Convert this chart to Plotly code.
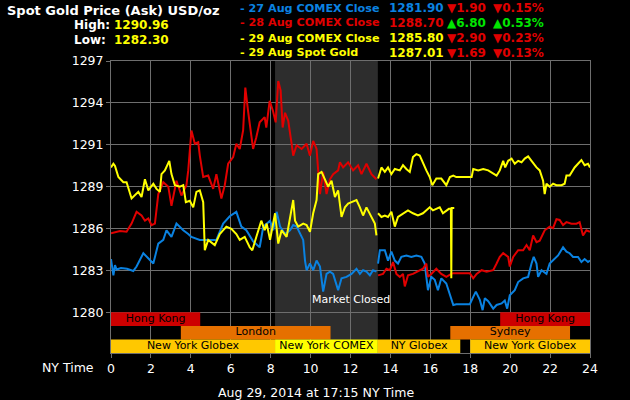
import plotly.graph_objects as go

# hour of the NY day (0-24) and ask price
# segments before the COMEX close (left) and after it (right)
blue_am_hours = [0.0, 0.12, 0.2, 0.28, 0.5, 0.8, 1.12, 1.28, 1.62, 1.95, 2.12, 2.37, 2.62, 2.78, 3.03, 3.28,
                 3.62, 3.87, 4.03, 4.45, 4.95, 5.28, 5.62, 5.95, 6.28, 6.53, 6.78, 7.12, 7.45, 7.63, 7.8, 7.97,
                 8.13, 8.3, 8.47, 8.72, 8.97, 9.13, 9.3, 9.47, 9.63, 9.72, 9.8, 9.97, 10.13, 10.3, 10.47, 10.63,
                 10.8, 10.97, 11.13, 11.38, 11.55, 11.8, 12.05, 12.3, 12.47, 12.63, 12.8, 12.97, 13.13, 13.3]
blue_am_prices = [1283.6, 1282.5, 1283.2, 1282.9, 1283.0, 1282.95, 1282.8, 1283.1, 1284.0, 1283.5, 1283.3, 1284.65,
                  1284.9, 1285.55, 1285.1, 1286.0, 1285.55, 1285.3, 1285.1, 1284.9, 1284.9, 1284.9, 1286.0, 1286.5,
                  1286.8, 1285.8, 1285.55, 1284.8, 1284.4, 1285.8, 1286.0, 1286.2, 1285.55, 1286.8, 1285.8, 1285.3,
                  1285.55, 1285.9, 1285.8, 1285.3, 1284.9, 1283.5, 1282.85, 1283.3, 1282.85, 1283.5, 1283.1, 1281.4,
                  1282.6, 1282.75, 1282.6, 1281.5, 1282.3, 1282.4, 1282.6, 1282.95, 1282.6, 1282.85, 1282.75, 1282.5,
                  1282.85, 1282.75]
blue_pm_hours = [13.38, 13.47, 13.72, 13.88, 14.05, 14.22, 14.38, 14.55, 14.8, 15.05, 15.3, 15.55, 15.72, 15.88,
                 16.05, 16.22, 16.38, 16.55, 16.8, 17.05, 17.15, 17.3, 17.98, 18.15, 18.28, 18.48, 18.62, 18.73,
                 18.9, 19.15, 19.32, 19.57, 19.73, 19.85, 19.98, 20.23, 20.4, 20.65, 20.9, 21.07, 21.18, 21.32,
                 21.4, 21.57, 21.82, 21.98, 22.23, 22.4, 22.65, 22.82, 22.98, 23.15, 23.4, 23.57, 23.73, 23.9, 24.0]
blue_pm_prices = [1283.3, 1284.2, 1284.2, 1283.5, 1284.1, 1283.5, 1283.3, 1283.75, 1283.85, 1283.75, 1283.85,
                  1283.75, 1283.3, 1281.5, 1282.4, 1282.2, 1281.5, 1282.3, 1281.95, 1280.8, 1280.5, 1280.55,
                  1280.55, 1281.05, 1281.4, 1280.85, 1280.15, 1280.95, 1280.75, 1280.25, 1280.5, 1280.6, 1280.8,
                  1280.25, 1281.15, 1281.5, 1282.05, 1282.3, 1282.4, 1283.3, 1283.75, 1283.3, 1282.4, 1282.85,
                  1282.6, 1283.3, 1283.65, 1283.85, 1284.4, 1284.1, 1284.0, 1283.75, 1283.75, 1283.4, 1283.6,
                  1283.4, 1283.5]

red_am_hours = [0.0, 0.45, 0.78, 1.03, 1.28, 1.53, 1.7, 1.87, 2.03, 2.2, 2.37, 2.62, 2.87, 3.03, 3.28, 3.53,
                3.78, 3.87, 4.03, 4.2, 4.37, 4.45, 4.62, 4.87, 5.12, 5.28, 5.53, 5.7, 5.87, 6.12, 6.28, 6.45,
                6.62, 6.73, 6.87, 7.03, 7.12, 7.28, 7.45, 7.7, 7.78, 7.95, 8.12, 8.25, 8.38, 8.5, 8.6, 8.72,
                8.88, 9.05, 9.13, 9.3, 9.55, 9.8, 9.97, 10.13, 10.3, 10.38, 10.47, 10.63, 10.8, 10.97, 11.13,
                11.38, 11.47, 11.63, 11.88, 12.13, 12.38, 12.55, 12.8, 13.05, 13.3]
red_am_prices = [1285.35, 1285.5, 1285.45, 1286.0, 1286.8, 1286.55, 1286.2, 1286.35, 1285.9, 1286.0, 1288.0,
                 1288.8, 1288.5, 1287.2, 1288.9, 1287.9, 1288.6, 1289.6, 1292.3, 1291.4, 1291.5, 1290.6, 1289.15,
                 1289.25, 1288.35, 1289.35, 1287.7, 1288.6, 1290.05, 1290.5, 1291.4, 1291.05, 1292.3, 1295.2,
                 1293.6, 1291.85, 1291.05, 1291.85, 1292.85, 1293.2, 1292.5, 1294.3, 1293.6, 1292.85, 1295.65,
                 1295.0, 1292.5, 1293.5, 1292.95, 1291.4, 1290.6, 1291.3, 1291.05, 1291.4, 1290.6, 1291.6,
                 1291.05, 1289.6, 1288.0, 1289.5, 1288.0, 1289.0, 1289.35, 1289.6, 1290.15, 1289.8, 1290.15,
                 1289.6, 1289.95, 1289.35, 1290.05, 1289.35, 1289.0]
red_pm_hours = [13.38, 13.63, 13.8, 13.97, 14.13, 14.3, 14.47, 14.63, 14.72, 14.88, 15.13, 15.38, 15.63, 15.8,
                15.88, 16.05, 16.3, 16.55, 16.8, 17.05, 17.15, 17.98, 18.15, 18.32, 18.57, 18.82, 19.15, 19.32,
                19.48, 19.65, 19.9, 19.98, 20.15, 20.4, 20.65, 20.82, 20.98, 21.15, 21.32, 21.48, 21.73, 21.98,
                22.15, 22.32, 22.48, 22.65, 22.82, 23.07, 23.32, 23.48, 23.65, 23.82, 24.0]
red_pm_prices = [1282.5, 1282.6, 1282.95, 1282.85, 1283.4, 1282.6, 1282.4, 1282.6, 1281.75, 1282.5, 1282.6,
                 1282.75, 1282.95, 1283.3, 1282.4, 1282.6, 1282.95, 1282.6, 1282.4, 1282.6, 1282.65, 1282.65,
                 1282.3, 1282.6, 1282.85, 1282.75, 1282.85, 1283.3, 1283.75, 1284.0, 1283.75, 1283.1, 1283.75,
                 1284.2, 1284.2, 1284.55, 1284.2, 1285.2, 1284.75, 1284.85, 1285.55, 1285.8, 1285.7, 1286.3,
                 1286.25, 1285.9, 1286.1, 1286.0, 1286.0, 1286.1, 1285.2, 1285.55, 1285.45]

yellow_am_hours = [0.0, 0.12, 0.2, 0.37, 0.62, 0.78, 1.03, 1.2, 1.37, 1.53, 1.7, 1.87, 2.12, 2.28, 2.45, 2.53,
                   2.7, 2.92, 3.03, 3.2, 3.45, 3.62, 3.75, 3.95, 4.12, 4.28, 4.45, 4.62, 4.7, 4.87, 5.03, 5.2,
                   5.45, 5.78, 6.03, 6.28, 6.45, 6.7, 6.95, 7.08, 7.28, 7.53, 7.7, 7.8, 7.97, 8.22, 8.38, 8.55,
                   8.8, 8.97, 9.13, 9.22, 9.38, 9.63, 9.8, 9.97, 10.13, 10.3, 10.38, 10.55, 10.72, 10.88, 11.05,
                   11.22, 11.38, 11.55, 11.72, 11.88, 12.05, 12.3, 12.47, 12.63, 12.8, 13.05, 13.22, 13.3]
yellow_am_prices = [1289.8, 1290.05, 1289.9, 1289.15, 1288.8, 1288.8, 1287.7, 1287.9, 1288.15, 1287.8, 1289.0,
                    1288.25, 1288.7, 1288.35, 1288.15, 1289.35, 1289.6, 1290.25, 1289.35, 1288.6, 1288.5, 1288.6,
                    1287.45, 1287.55, 1287.1, 1288.15, 1288.25, 1287.45, 1284.2, 1284.9, 1284.75, 1284.55,
                    1285.3, 1285.8, 1285.65, 1285.3, 1284.9, 1285.1, 1284.4, 1284.2, 1285.1, 1286.2, 1285.55,
                    1286.0, 1284.9, 1286.7, 1284.65, 1285.55, 1285.1, 1286.45, 1287.6, 1286.2, 1285.8, 1286.0,
                    1285.9, 1285.45, 1286.7, 1287.6, 1289.35, 1289.5, 1289.0, 1288.5, 1288.9, 1287.8, 1288.25,
                    1286.45, 1287.1, 1287.35, 1287.45, 1287.6, 1287.1, 1286.55, 1287.1, 1286.45, 1286.0, 1285.2]
yellow_pm_hours = [13.38, 13.55, 13.72, 13.88, 14.05, 14.22, 14.47, 14.63, 14.8, 14.97, 15.13, 15.3, 15.47,
                   15.63, 15.8, 15.97, 16.1, 16.3, 16.55, 16.8, 16.98, 17.15, 17.3, 18.07, 18.15, 18.4, 18.65,
                   18.9, 19.32, 19.48, 19.65, 19.75, 19.9, 20.07, 20.23, 20.4, 20.57, 20.73, 20.9, 21.07, 21.32,
                   21.48, 21.65, 21.73, 21.82, 21.98, 22.15, 22.32, 22.57, 22.73, 22.82, 22.98, 23.23, 23.4,
                   23.57, 23.73, 23.9, 24.0]
yellow_pm_prices = [1289.05, 1289.8, 1289.5, 1289.8, 1289.35, 1289.7, 1289.6, 1289.95, 1289.7, 1289.5, 1290.5,
                    1290.7, 1290.6, 1290.05, 1289.6, 1289.15, 1288.6, 1289.05, 1289.05, 1288.6, 1289.15, 1289.25,
                    1289.15, 1289.15, 1289.7, 1289.6, 1289.7, 1289.6, 1289.25, 1289.6, 1290.25, 1289.8, 1290.25,
                    1290.4, 1290.05, 1290.25, 1290.15, 1290.4, 1290.55, 1290.25, 1289.8, 1289.6, 1288.9, 1288.0,
                    1288.7, 1288.5, 1288.7, 1288.6, 1288.6, 1288.7, 1289.25, 1289.25, 1289.8, 1290.05, 1290.3,
                    1289.95, 1290.05, 1289.8]
spot_hours = [13.38, 13.55, 13.72, 13.88, 14.05, 14.22, 14.38, 14.63, 14.88, 15.13, 15.38, 15.63, 15.97,
              16.13, 16.47, 16.63, 16.8, 16.93, 17.03, 17.05, 17.07, 17.2]
spot_prices = [1286.7, 1286.45, 1286.55, 1286.45, 1286.8, 1285.8, 1286.45, 1286.7, 1286.9, 1286.7, 1286.55,
               1286.7, 1287.1, 1286.9, 1287.1, 1286.7, 1286.9, 1287.0, 1287.0, 1282.3, 1287.05, 1287.05]

# trading sessions shown under the chart (NY hours)
session_names = ["Hong Kong", "Hong Kong", "London", "Sydney",
                 "New York Globex", "New York COMEX", "NY Globex", "New York Globex"]
session_starts = [0, 19.5, 3.5, 17.0, 0, 8.22, 13.37, 18.0]
session_ends = [4.47, 24, 11.0, 23.0, 8.22, 13.37, 17.5, 24]
closed_start, closed_end = 8.22, 13.37

x_ticks = list(range(0, 25, 2))
y_tick_values = [1280, 1282.83, 1285.67, 1288.5, 1291.33, 1294.17, 1297]
y_tick_labels = ["1280", "1283", "1286", "1289", "1291", "1294", "1297"]

legend_labels = ["27 Aug COMEX Close", "28 Aug COMEX Close", "29 Aug COMEX Close", "29 Aug Spot Gold"]
legend_prices = ["1281.90", "1288.70", "1285.80", "1287.01"]
legend_changes = ["1.90", "6.80", "2.90", "1.69"]
legend_pcts = ["0.15%", "0.53%", "0.23%", "0.13%"]
legend_up = [False, True, False, False]
day_high, day_low = "1290.96", "1282.30"

BLUE = "rgb(10,130,225)"
RED = "rgb(225,0,0)"
YELLOW = "rgb(255,255,0)"
GREEN = "rgb(0,230,0)"
GRID = "rgb(110,110,110)"
FONT = "DejaVu Sans"

# row (0 = bottom) and colour of each kind of session bar
session_style = {
    "Hong Kong": (2, "rgb(205,0,0)"),
    "London": (1, "rgb(230,112,0)"),
    "Sydney": (1, "rgb(230,112,0)"),
    "New York Globex": (0, "rgb(255,200,0)"),
    "NY Globex": (0, "rgb(255,200,0)"),
    "New York COMEX": (0, "rgb(255,255,0)"),
}

L, R, T, B = 111, 40, 61, 47
W, H = 630, 400


def px(x):
    return (x - L) / (W - L - R)


def py(y):
    return (H - B - y) / (H - T - B)


fig = go.Figure()

series = [
    (blue_am_hours, blue_am_prices, BLUE), (blue_pm_hours, blue_pm_prices, BLUE),
    (red_am_hours, red_am_prices, RED), (red_pm_hours, red_pm_prices, RED),
    (yellow_am_hours, yellow_am_prices, YELLOW), (yellow_pm_hours, yellow_pm_prices, YELLOW),
    (spot_hours, spot_prices, YELLOW),
]
for hours, prices, color in series:
    fig.add_trace(go.Scatter(x=hours, y=prices, mode="lines",
                             line=dict(color=color, width=2), hoverinfo="skip"))

rows = [session_style[n][0] for n in session_names]
fig.add_trace(go.Bar(
    x=[e - s for s, e in zip(session_starts, session_ends)], base=session_starts, y=rows,
    orientation="h", width=1, yaxis="y2",
    marker=dict(color=[session_style[n][1] for n in session_names], line_width=0),
    hoverinfo="skip",
))
fig.add_trace(go.Scatter(
    x=[(s + e) / 2 for s, e in zip(session_starts, session_ends)], y=rows, yaxis="y2",
    mode="text", text=session_names, textfont=dict(family=FONT, size=11, color="black"),
    hoverinfo="skip",
))

fig.add_shape(type="rect", xref="x", yref="paper", x0=closed_start, x1=closed_end, y0=0, y1=1,
              fillcolor="rgb(45,45,45)", line_width=0, layer="below")
fig.add_annotation(x=12.0, y=1280.85, text="Market Closed", showarrow=False,
                   font=dict(family=FONT, size=11, color="white"))

# header
ann = []
ann.append(dict(x=px(5), y=py(10), text="<b>Spot Gold Price (Ask) USD/oz</b>", xanchor="left",
                font=dict(size=13, color="white")))
ann.append(dict(x=px(72), y=py(25), text="<b>High:</b>", xanchor="left", font=dict(size=12, color="white")))
ann.append(dict(x=px(112), y=py(25), text="<b>" + day_high + "</b>", xanchor="left",
                font=dict(size=12, color=YELLOW)))
ann.append(dict(x=px(72), y=py(40), text="<b>Low:</b>", xanchor="left", font=dict(size=12, color="white")))
ann.append(dict(x=px(112), y=py(40), text="<b>" + day_low + "</b>", xanchor="left",
                font=dict(size=12, color=YELLOW)))
row_colors = [BLUE, RED, YELLOW, YELLOW]
for i, label in enumerate(legend_labels):
    yy = py(8 + 15 * i)
    chg_color = GREEN if legend_up[i] else RED
    arrow = "▲" if legend_up[i] else "▼"
    ann.append(dict(x=px(238), y=yy, text="<b>- " + label + "</b>", xanchor="left",
                    font=dict(size=11.2, color=row_colors[i])))
    ann.append(dict(x=px(387), y=yy, text="<b>" + legend_prices[i] + "</b>", xanchor="left",
                    font=dict(size=12, color=row_colors[i])))
    ann.append(dict(x=px(445), y=yy, text="<b>" + arrow + legend_changes[i] + "</b>", xanchor="left",
                    font=dict(size=12, color=chg_color)))
    ann.append(dict(x=px(491), y=yy, text="<b>" + arrow + legend_pcts[i] + "</b>", xanchor="left",
                    font=dict(size=12, color=chg_color)))
ann.append(dict(x=px(68), y=py(367), text="NY Time", xanchor="center", font=dict(size=12.5, color="white")))
ann.append(dict(x=px(316), y=py(392), text="Aug 29, 2014 at 17:15 NY Time", xanchor="center",
                font=dict(size=12.5, color="white")))
for a in ann:
    a.update(xref="paper", yref="paper", showarrow=False, yanchor="middle")
    a["font"]["family"] = FONT
    fig.add_annotation(**a)

axis_style = dict(showgrid=True, gridcolor=GRID, gridwidth=1, showline=True, linecolor=GRID, linewidth=1,
                  mirror=True, ticks="outside", ticklen=4, tickcolor=GRID, zeroline=False,
                  tickfont=dict(family=FONT, size=12.5, color="white"))
fig.update_layout(
    width=W, height=H,
    margin=dict(l=L, r=R, t=T, b=B, pad=0),
    paper_bgcolor="black", plot_bgcolor="black",
    showlegend=False,
    xaxis=dict(range=[0, 24], tickvals=x_ticks, **axis_style),
    yaxis=dict(range=[1277.25, 1297], tickvals=y_tick_values, ticktext=y_tick_labels, **axis_style),
    yaxis2=dict(overlaying="y", range=[-0.5, 21.04], visible=False, fixedrange=True),
)

# the page body has a default 8px margin; drop it so the figure sits at the window corner
fig.write_html("out.html", config={"displayModeBar": False},
               post_script="document.body.style.margin='0';document.body.style.background='black';")
